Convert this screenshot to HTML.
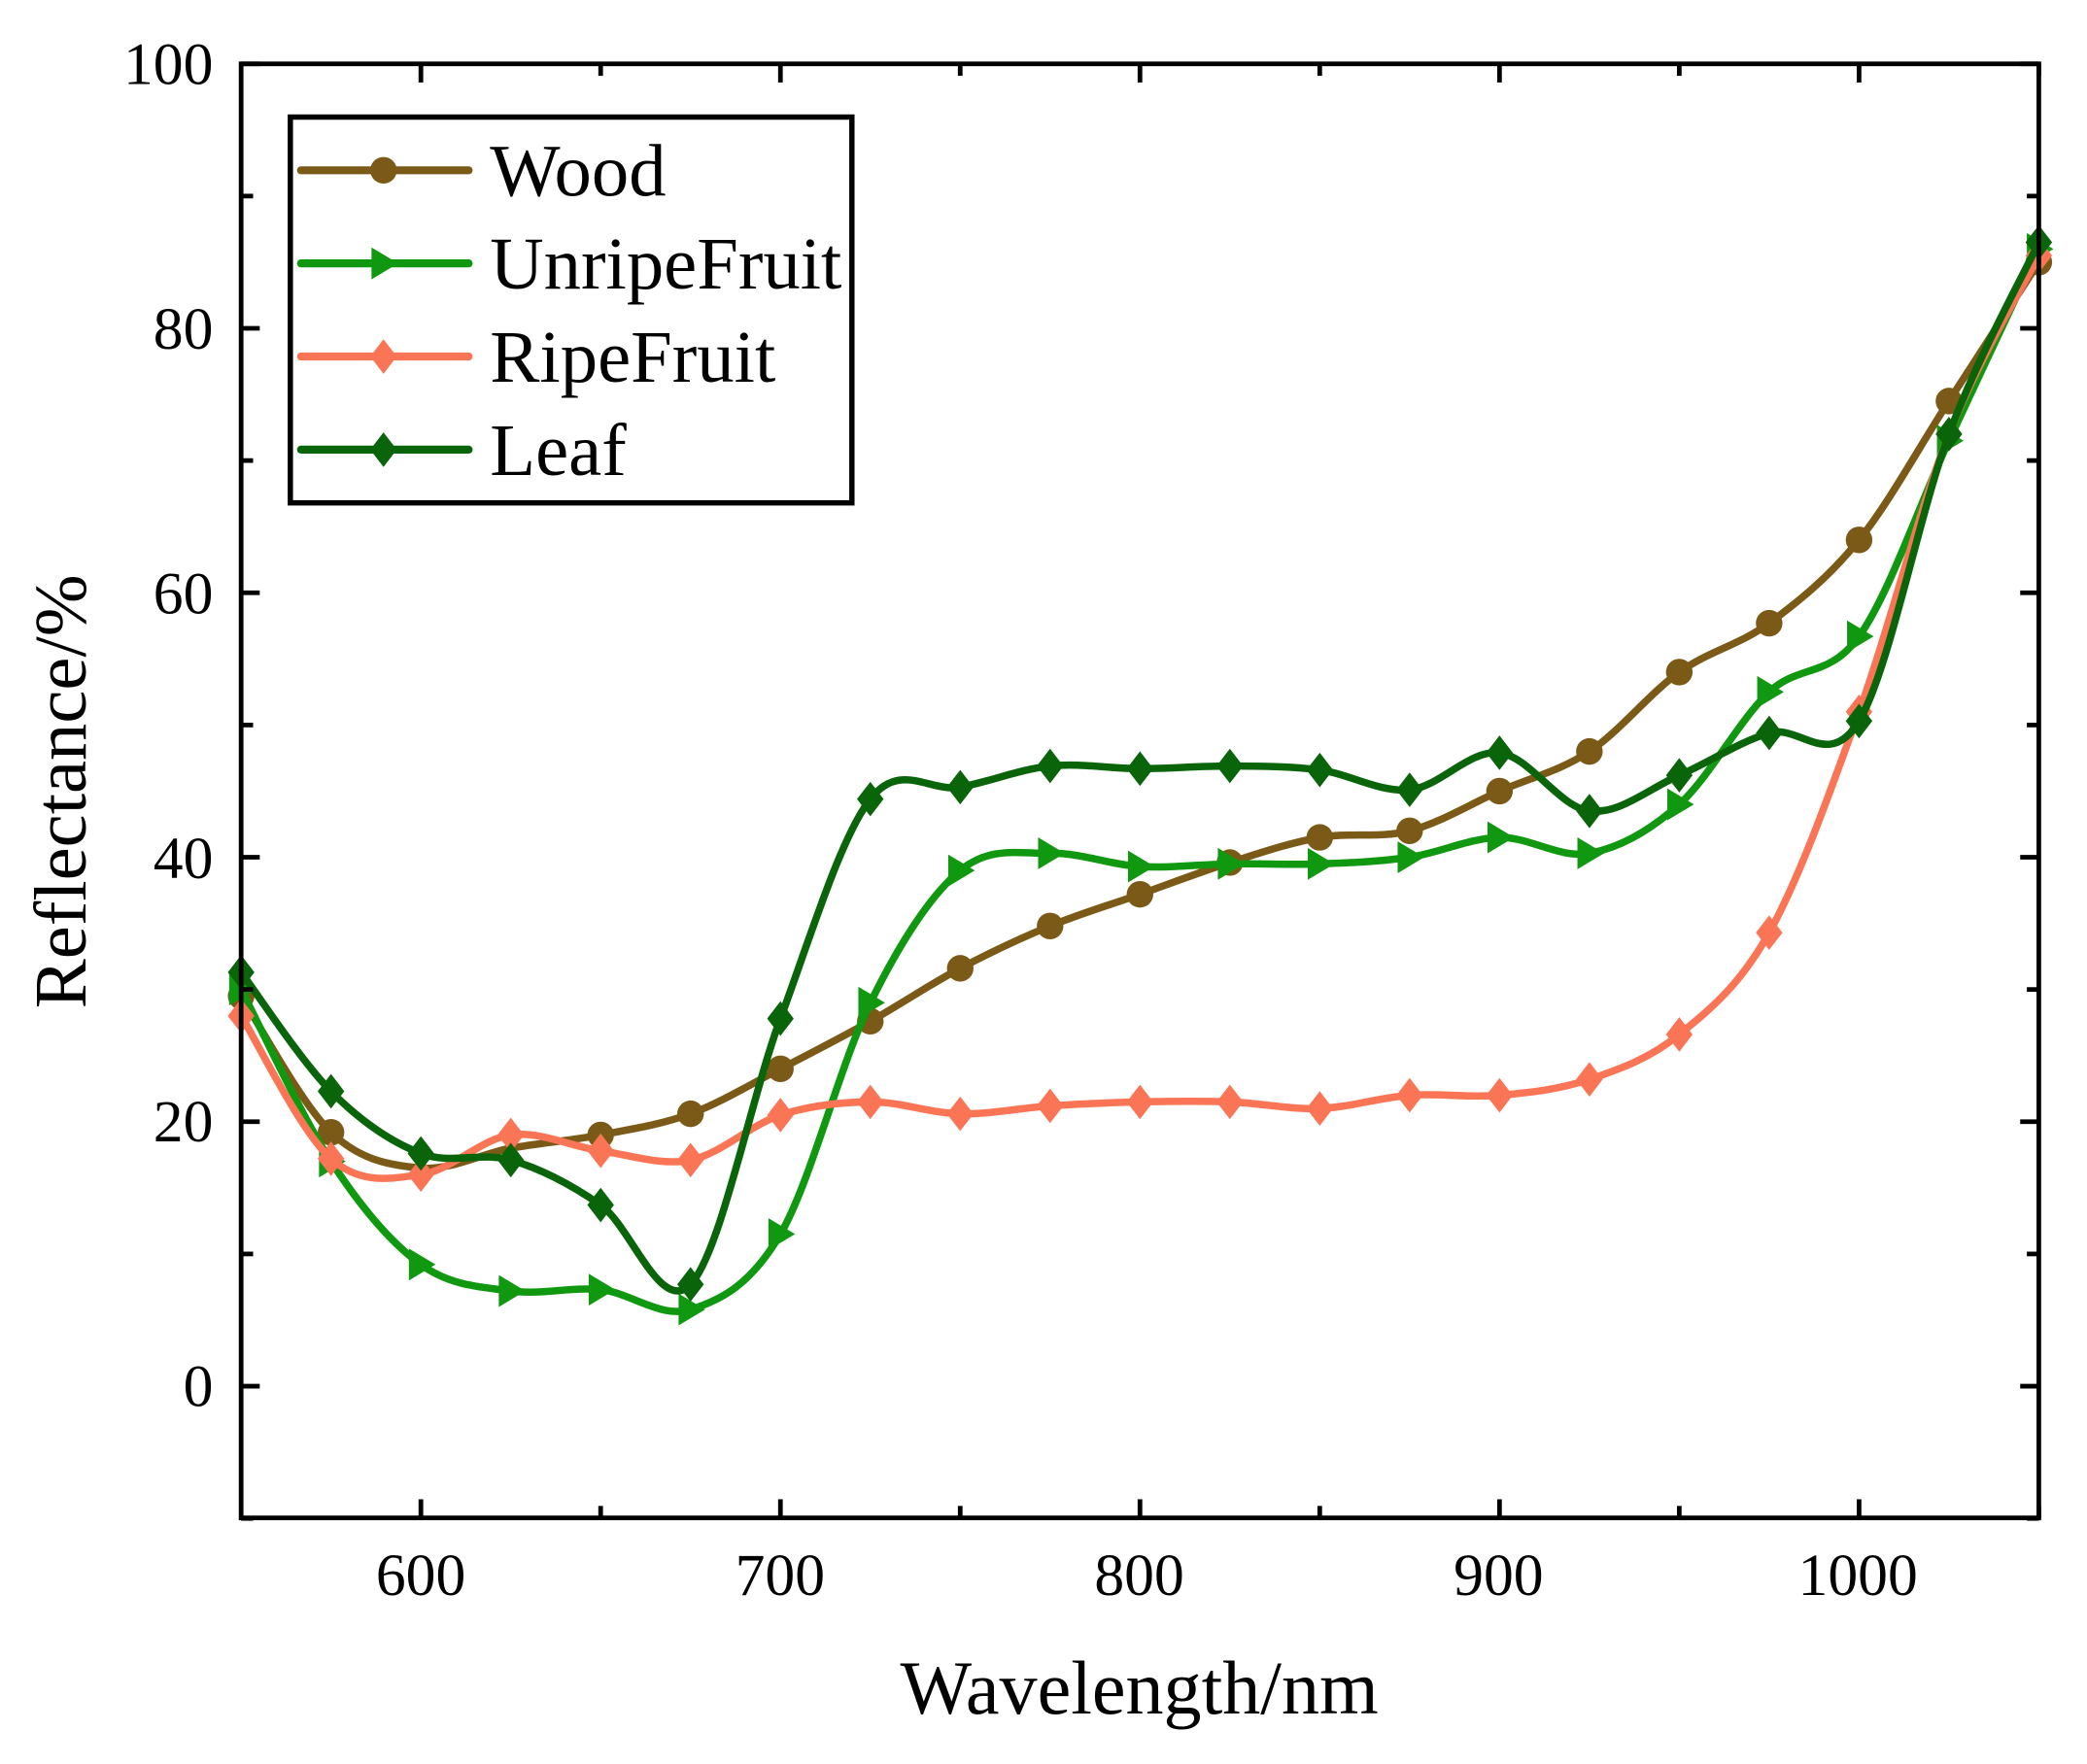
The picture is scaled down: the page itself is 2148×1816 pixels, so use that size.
<!DOCTYPE html>
<html><head><meta charset="utf-8"><style>
html,body{margin:0;padding:0;background:#fff;}
svg{display:block;}
text{font-family:"Liberation Serif",serif;fill:#000;}
</style></head><body>
<svg id="s" width="2148" height="1816" viewBox="0 0 1568 1326" xmlns="http://www.w3.org/2000/svg">
<g id="plot"></g>
<rect x="181" y="48" width="1351" height="1093" fill="none" stroke="#000" stroke-width="3.5"/>
<g id="ticks" stroke="#000" stroke-width="3.5"></g>
<g font-size="45" text-anchor="middle">
<text x="316" y="1199">600</text><text x="586" y="1199">700</text><text x="856" y="1199">800</text><text x="1126" y="1199">900</text><text x="1396" y="1199">1000</text>
</g>
<g font-size="45" text-anchor="end">
<text x="160" y="63">100</text><text x="160" y="262">80</text><text x="160" y="461">60</text><text x="160" y="660">40</text><text x="160" y="858">20</text><text x="160" y="1057">0</text>
</g>
<text x="856" y="1288" font-size="57" text-anchor="middle">Wavelength/nm</text>
<text transform="translate(64,595) rotate(-90)" font-size="56" text-anchor="middle">Reflectance/%</text>
<rect x="218" y="88" width="422" height="290" fill="#fff" stroke="#000" stroke-width="4"/>
<g id="leg"></g>
<g font-size="56">
<text x="368" y="147">Wood</text><text x="368" y="217">UnripeFruit</text><text x="368" y="287">RipeFruit</text><text x="368" y="357">Leaf</text>
</g>
</svg>
<script>
const X=v=>181+(v-550)*2.702, Y=v=>1042-v*9.94;
const xs=[];for(let w=550;w<=1050;w+=25)xs.push(w);
const S=[
{c:"#7b5a18",m:"o",d:[29.5,19.2,16.5,18,19,20.6,24,27.6,31.6,34.8,37.2,39.6,41.5,42,45,48,54,57.7,64,74.5,85],skip:[2,3]},
{c:"#109810",m:">",d:[30,17,9.2,7.2,7.3,5.8,11.5,29,39,40.3,39.3,39.5,39.5,40,41.5,40.3,44,52.5,56.7,71.5,86]},
{c:"#fa7555",m:"d",d:[28,17.2,16,19,17.8,17.1,20.5,21.5,20.6,21.2,21.5,21.5,21,22,22,23.2,26.6,34.3,51,72,85.5]},
{c:"#0a640a",m:"d",d:[31.3,22.3,17.6,17.1,13.7,7.7,27.8,44.4,45.3,46.9,46.7,46.9,46.6,45.1,47.9,43.5,46.2,49.4,50.3,72,86.5]}];
function mk(m,x,y,c){
 if(m=="o")return `<circle cx="${x}" cy="${y}" r="10" fill="${c}"/>`;
 if(m==">")return `<polygon points="${x-9},${y-12} ${x+11},${y} ${x-9},${y+12}" fill="${c}"/>`;
 return `<polygon points="${x},${y-13} ${x+10},${y} ${x},${y+13} ${x-10},${y}" fill="${c}"/>`;
}
let h="";
S.forEach(s=>{
 const p=xs.map((w,i)=>[X(w),Y(s.d[i])]);
 let d=`M${p[0][0]},${p[0][1]}`;
 for(let i=0;i<p.length-1;i++){
  const p0=p[Math.max(0,i-1)],p1=p[i],p2=p[i+1],p3=p[Math.min(p.length-1,i+2)];
  d+=` C${p1[0]+(p2[0]-p0[0])/6},${p1[1]+(p2[1]-p0[1])/6} ${p2[0]-(p3[0]-p1[0])/6},${p2[1]-(p3[1]-p1[1])/6} ${p2[0]},${p2[1]}`;
 }
 h+=`<path d="${d}" fill="none" stroke="${s.c}" stroke-width="5.5" stroke-linejoin="round"/>`;
 p.forEach((q,i)=>{ if(!(s.skip&&s.skip.includes(i))) h+=mk(s.m,q[0],q[1],s.c);});
});
document.getElementById("plot").innerHTML=h;
let t="";
for(let w=600;w<=1050;w+=50){const x=X(w),L=(w%100==0)?14:9;t+=`<line x1="${x}" y1="1141" x2="${x}" y2="${1141-L}"/><line x1="${x}" y1="48" x2="${x}" y2="${48+L}"/>`;}
for(let v=-10;v<=100;v+=10){const y=Y(v),L=(v%20==0)?14:9;t+=`<line x1="181" y1="${y}" x2="${181+L}" y2="${y}"/><line x1="1532" y1="${y}" x2="${1532-L}" y2="${y}"/>`;}
document.getElementById("ticks").innerHTML=t;
let l="";
S.forEach((s,i)=>{const y=128+70*i;l+=`<line x1="226" y1="${y}" x2="352" y2="${y}" stroke="${s.c}" stroke-width="6" stroke-linecap="round"/>`+mk(s.m,288,y,s.c);});
document.getElementById("leg").innerHTML=l;
</script>
</body></html>
